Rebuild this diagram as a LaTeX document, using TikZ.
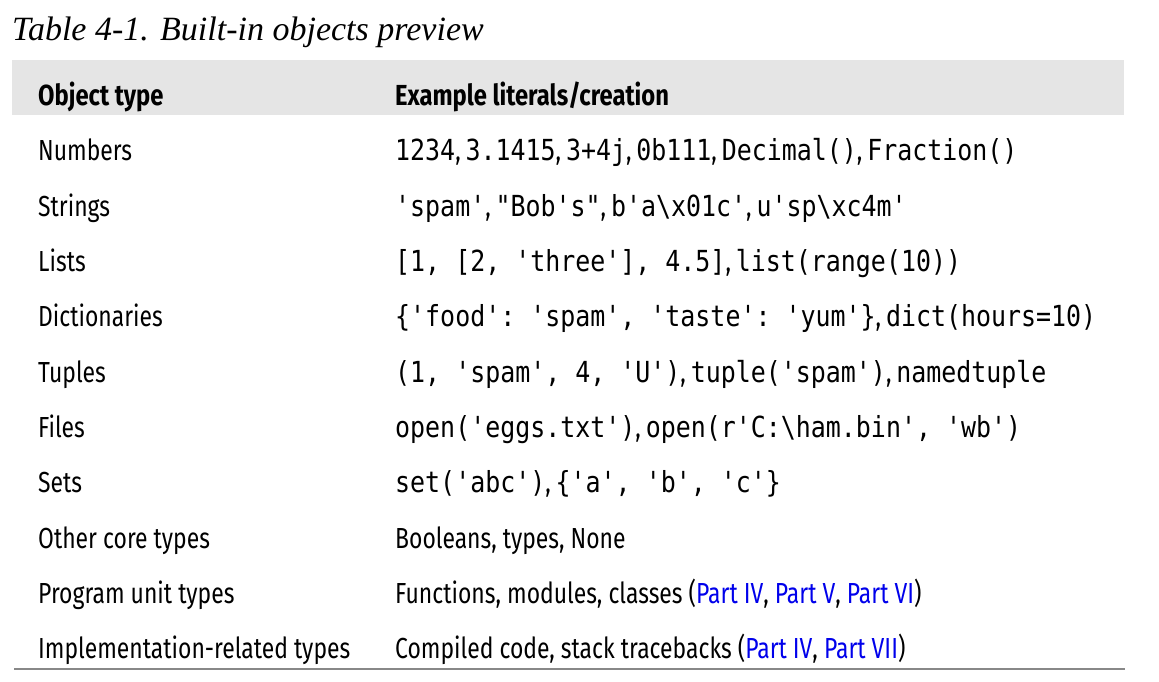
\documentclass[tikz,border=0pt]{standalone}
\usepackage{fontspec}
\setmainfont{Fira Sans}[FakeStretch=0.79, BoldFeatures={FakeStretch=0.82}]
\setmonofont{DejaVu Sans Mono}[FakeStretch=0.86]
\newfontfamily\capfont{Liberation Serif}
\definecolor{headgray}{RGB}{229,229,229}
\definecolor{rulegray}{RGB}{136,136,136}
\definecolor{linkblue}{RGB}{0,0,235}
\newcommand{\cd}[1]{{\ttfamily #1}}
\newcommand{\csep}{,\,}
\newcommand{\bs}{\textbackslash}
\newcommand{\partref}[1]{\textcolor{linkblue}{#1}}
\tikzset{
  cell/.style={anchor=base west, inner sep=0pt, font=\fontsize{29}{34}\selectfont},
  headcell/.style={cell, font=\fontsize{29}{34}\selectfont\bfseries}
}
\begin{document}
\begin{tikzpicture}[x=1pt, y=-1pt]
      \useasboundingbox (0,0) rectangle (1159,681);
      % Caption and header band
      \node[anchor=base west, inner sep=0pt, font=\fontsize{34}{40}\selectfont\capfont\itshape] (cap) at (12,40) {Table 4-1. Built-in objects preview};
      \fill[headgray] (12,60) rectangle (1124,115);
      \node[headcell] (h1) at (38,105) {Object type};
      \node[headcell] (h2) at (395,105) {Example literals/creation};

      % Object types
      \node[cell] (t1) at (38,160) {Numbers};
      \node[cell] (t2) at (38,216) {Strings};
      \node[cell] (t3) at (38,271) {Lists};
      \node[cell] (t4) at (38,326) {Dictionaries};
      \node[cell] (t5) at (38,382) {Tuples};
      \node[cell] (t6) at (38,437) {Files};
      \node[cell] (t7) at (38,492) {Sets};
      \node[cell] (t8) at (38,548) {Other core types};
      \node[cell] (t9) at (38,603) {Program unit types};
      \node[cell] (t10) at (38,658) {Implementation-related types};

      % Examples
      \node[cell] (v1) at (395,160) {\cd{1234}\csep\cd{3.1415}\csep\cd{3+4j}\csep\cd{0b111}\csep\cd{Decimal()}\csep\cd{Fraction()}};
      \node[cell] (v2) at (395,216) {\cd{'spam'}\csep\cd{"Bob's"}\csep\cd{b'a\bs x01c'}\csep\cd{u'sp\bs xc4m'}};
      \node[cell] (v3) at (395,271) {\cd{[1, [2, 'three'], 4.5]}\csep\cd{list(range(10))}};
      \node[cell] (v4) at (395,326) {\cd{\{'food': 'spam', 'taste': 'yum'\}}\csep\cd{dict(hours=10)}};
      \node[cell] (v5) at (395,382) {\cd{(1, 'spam', 4, 'U')}\csep\cd{tuple('spam')}\csep\cd{namedtuple}};
      \node[cell] (v6) at (395,437) {\cd{open('eggs.txt')}\csep\cd{open(r'C:\bs ham.bin', 'wb')}};
      \node[cell] (v7) at (395,492) {\cd{set('abc')}\csep\cd{\{'a', 'b', 'c'\}}};
      \node[cell] (v8) at (395,548) {Booleans, types, None};
      \node[cell] (v9) at (395,603) {Functions, modules, classes (\partref{Part IV}, \partref{Part V}, \partref{Part VI})};
      \node[cell] (v10) at (395,658) {Compiled code, stack tracebacks (\partref{Part IV}, \partref{Part VII})};

      % Bottom rule
      \draw[rulegray, line width=1.5pt] (14,669) -- (1125,669);
\end{tikzpicture}
\end{document}
